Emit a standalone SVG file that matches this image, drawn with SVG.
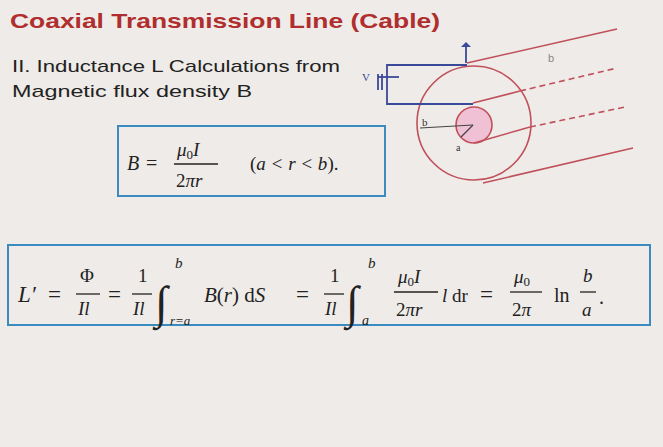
<svg xmlns="http://www.w3.org/2000/svg" width="663" height="447" viewBox="0 0 663 447">
<style>
.t{font-family:"Liberation Serif",serif;fill:#222}
.i{font-style:italic}
.r{stroke:#c0505a;stroke-width:1.6;fill:none}
.b{stroke:#3a4a9a;stroke-width:1.8;fill:none}
.box{fill:none;stroke:#3a8cc0;stroke-width:2}
.f{stroke:#222;stroke-width:1.3}
</style>
<rect width="663" height="447" fill="#eeebe8"/>
<text x="10" y="28" font-family="Liberation Sans,sans-serif" font-weight="bold" font-size="21" fill="#b02e2e" textLength="430" lengthAdjust="spacingAndGlyphs">Coaxial Transmission Line (Cable)</text>
<text font-family="Liberation Sans,sans-serif" font-size="17" fill="#222"><tspan x="12" y="72" textLength="328" lengthAdjust="spacingAndGlyphs">II. Inductance L Calculations from</tspan><tspan x="12" y="97" textLength="240" lengthAdjust="spacingAndGlyphs">Magnetic flux density B</tspan></text>
<g id="box1">
<rect class="box" x="118" y="126" width="267" height="70"/>
<text class="t i" x="127" y="170" font-size="20">B</text>
<text class="t" x="146" y="170" font-size="20">=</text>
<text class="t i" x="177" y="156" font-size="19">μ<tspan font-size="13" dy="3" font-style="normal">0</tspan><tspan dy="-3">I</tspan></text>
<line class="f" x1="174" y1="164" x2="218" y2="164"/>
<text class="t i" x="176" y="187" font-size="19"><tspan font-style="normal">2</tspan>πr</text>
<text class="t i" x="250" y="170" font-size="19"><tspan font-style="normal">(</tspan>a &lt; r &lt; b<tspan font-style="normal">).</tspan></text>
</g>
<g id="box2">
<rect class="box" x="8" y="245" width="642" height="80"/>
<text class="t i" x="18" y="302" font-size="23">L′</text>
<text class="t" x="48" y="302" font-size="23">=</text>
<text class="t" x="80" y="282" font-size="19">Φ</text>
<line class="f" x1="76" y1="294" x2="100" y2="294"/>
<text class="t i" x="78" y="315" font-size="19">Il</text>
<text class="t" x="108" y="302" font-size="23">=</text>
<text class="t" x="138" y="282" font-size="19">1</text>
<line class="f" x1="132" y1="294" x2="152" y2="294"/>
<text class="t i" x="133" y="315" font-size="19">Il</text>
<text class="t" x="155" y="318" font-size="46">∫</text>
<text class="t i" x="175" y="268" font-size="15">b</text>
<text class="t i" x="170" y="325" font-size="13">r=a</text>
<text class="t i" x="204" y="302" font-size="21">B<tspan font-style="normal">(</tspan>r<tspan font-style="normal">) d</tspan>S</text>
<text class="t" x="296" y="302" font-size="23">=</text>
<text class="t" x="330" y="282" font-size="19">1</text>
<line class="f" x1="324" y1="294" x2="344" y2="294"/>
<text class="t i" x="325" y="315" font-size="19">Il</text>
<text class="t" x="346" y="318" font-size="46">∫</text>
<text class="t i" x="368" y="268" font-size="15">b</text>
<text class="t i" x="362" y="325" font-size="14">a</text>
<text class="t i" x="398" y="283" font-size="19">μ<tspan font-size="13" dy="3" font-style="normal">0</tspan><tspan dy="-3">I</tspan></text>
<line class="f" x1="394" y1="292" x2="438" y2="292"/>
<text class="t i" x="396" y="316" font-size="19"><tspan font-style="normal">2</tspan>πr</text>
<text class="t i" x="442" y="302" font-size="19">l <tspan font-style="normal">dr</tspan></text>
<text class="t" x="480" y="302" font-size="23">=</text>
<text class="t i" x="514" y="283" font-size="19">μ<tspan font-size="13" dy="3" font-style="normal">0</tspan></text>
<line class="f" x1="510" y1="292" x2="542" y2="292"/>
<text class="t i" x="512" y="316" font-size="19"><tspan font-style="normal">2</tspan>π</text>
<text class="t" x="554" y="302" font-size="20">ln</text>
<text class="t i" x="583" y="282" font-size="19">b</text>
<line class="f" x1="580" y1="292" x2="596" y2="292"/>
<text class="t i" x="582" y="316" font-size="19">a</text>
<text class="t" x="599" y="304" font-size="20">.</text>
</g>
<g id="cable">
<circle class="r" cx="474" cy="123" r="57"/>
<circle cx="474" cy="125" r="18" fill="#f0c0d4" stroke="#c0505a" stroke-width="1.6"/>
<line class="r" x1="467" y1="63" x2="617" y2="29"/>
<line class="r" x1="483" y1="183" x2="633" y2="148"/>
<line class="r" x1="473" y1="103" x2="520" y2="91"/>
<line class="r" x1="474" y1="143" x2="530" y2="127"/>
<line class="r" x1="520" y1="91" x2="617" y2="68" stroke-dasharray="6,4"/>
<line class="r" x1="530" y1="127" x2="625" y2="107" stroke-dasharray="6,4"/>
<line x1="420" y1="128" x2="473" y2="125" stroke="#444" stroke-width="1.2"/>
<line x1="461" y1="137" x2="473" y2="125" stroke="#444" stroke-width="1.2"/>
<text x="422" y="126" font-family="Liberation Serif,serif" font-size="11" fill="#333">b</text>
<text x="456" y="151" font-family="Liberation Serif,serif" font-size="10" fill="#333">a</text>
<text x="548" y="62" font-family="Liberation Sans,sans-serif" font-size="11" fill="#888">b</text>
</g>
<g id="circuit">
<path class="b" d="M467 65 H387 V104 H473"/>
<line class="b" x1="466" y1="63" x2="466" y2="47"/>
<path d="M461 47 L466 42 L471 47 Z" fill="#3a4a9a"/>
<line class="b" x1="378" y1="77" x2="399" y2="77"/>
<line class="b" x1="378" y1="74" x2="378" y2="90"/>
<line class="b" x1="382" y1="74" x2="382" y2="90"/>
<text x="362" y="81" font-family="Liberation Serif,serif" font-size="11" fill="#3a4a9a">V</text>
</g>
</svg>
